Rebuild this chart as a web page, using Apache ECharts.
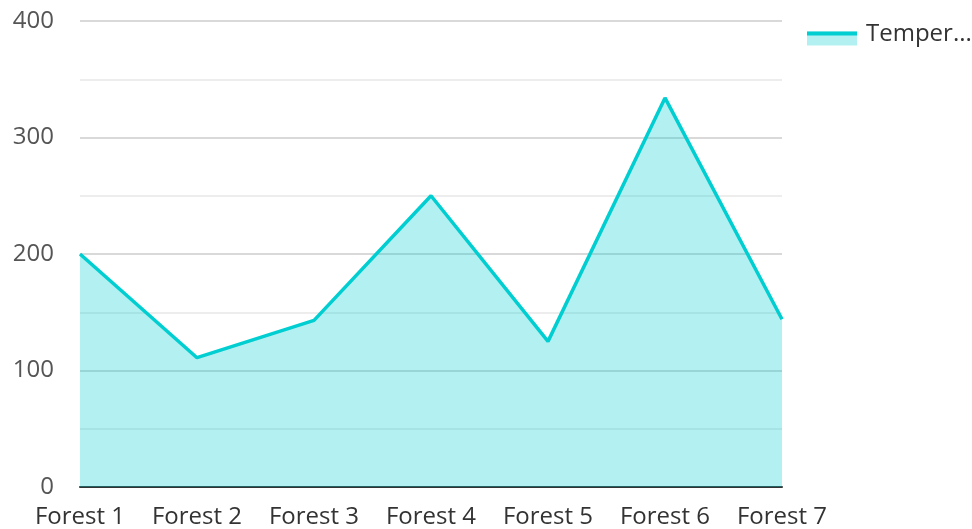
<!DOCTYPE html>
<html>
<head>
<meta charset="utf-8">
<script src="https://cdn.jsdelivr.net/npm/echarts@6/dist/echarts.min.js"></script>
<style>
html,body{margin:0;padding:0;background:#fff;}
#chart{width:972px;height:529px;}
</style>
</head>
<body>
<div id="chart"></div>
<script>
const categories = ['Forest 1','Forest 2','Forest 3','Forest 4','Forest 5','Forest 6','Forest 7'];
const seriesName = 'Temperature';
const values = [200, 111, 143, 250, 125, 334, 144];
const yMin = 0, yMax = 400, yInterval = 100;

const FONT = '"Open Sans", "Noto Sans", sans-serif';
const chart = echarts.init(document.getElementById('chart'), null, {renderer: 'canvas'});
const legendText = {fontFamily: FONT, fontSize: 24, color: '#333', width: 114, overflow: 'truncate', ellipsis: '...', padding: [0, 0, 10, 4]};
const hiddenText = Object.assign({}, legendText, {color: 'rgba(0,0,0,0)'});
chart.setOption({
  animation: false,
  grid: {left: 80, right: 190, top: 21, bottom: 41, containLabel: false},
  legend: [{
    data: [seriesName],
    left: 802, top: 21.5,
    orient: 'vertical',
    icon: 'rect',
    selectedMode: false,
    itemWidth: 50, itemHeight: 14,
    itemStyle: {color: 'rgba(0,206,209,0.3)', borderWidth: 0},
    textStyle: hiddenText
  }, {
    data: [seriesName],
    left: 802, top: 16.5,
    orient: 'vertical',
    icon: 'rect',
    selectedMode: false,
    itemWidth: 50, itemHeight: 4,
    itemStyle: {color: '#00CED1', borderWidth: 0},
    textStyle: hiddenText
  }, {
    data: [seriesName],
    left: 802, top: 17,
    orient: 'vertical',
    icon: 'rect',
    itemWidth: 50, itemHeight: 14,
    itemStyle: {color: 'rgba(0,0,0,0)', borderWidth: 0},
    textStyle: legendText
  }],
  xAxis: {
    type: 'category',
    data: categories,
    boundaryGap: false,
    axisLine: {show: true, lineStyle: {color: '#333', width: 2}},
    axisTick: {show: false},
    axisLabel: {fontFamily: FONT, fontSize: 24, color: '#333', margin: 18, interval: 0},
    splitLine: {show: false}
  },
  yAxis: {
    type: 'value',
    min: yMin, max: yMax, interval: yInterval,
    axisLine: {show: false},
    axisTick: {show: false},
    axisLabel: {fontFamily: FONT, fontSize: 24, color: '#555', margin: 26},
    splitLine: {show: true, lineStyle: {color: '#cccccc', width: 1.5}},
    minorTick: {show: false, splitNumber: 2},
    minorSplitLine: {show: true, lineStyle: {color: '#e8e8e8', width: 1.5}}
  },
  series: [{
    name: seriesName,
    type: 'line',
    data: values,
    symbol: 'none',
    lineStyle: {color: '#00CED1', width: 3.5},
    itemStyle: {color: '#00CED1'},
    areaStyle: {color: '#00CED1', opacity: 0.3}
  }]
});
</script>
</body>
</html>
